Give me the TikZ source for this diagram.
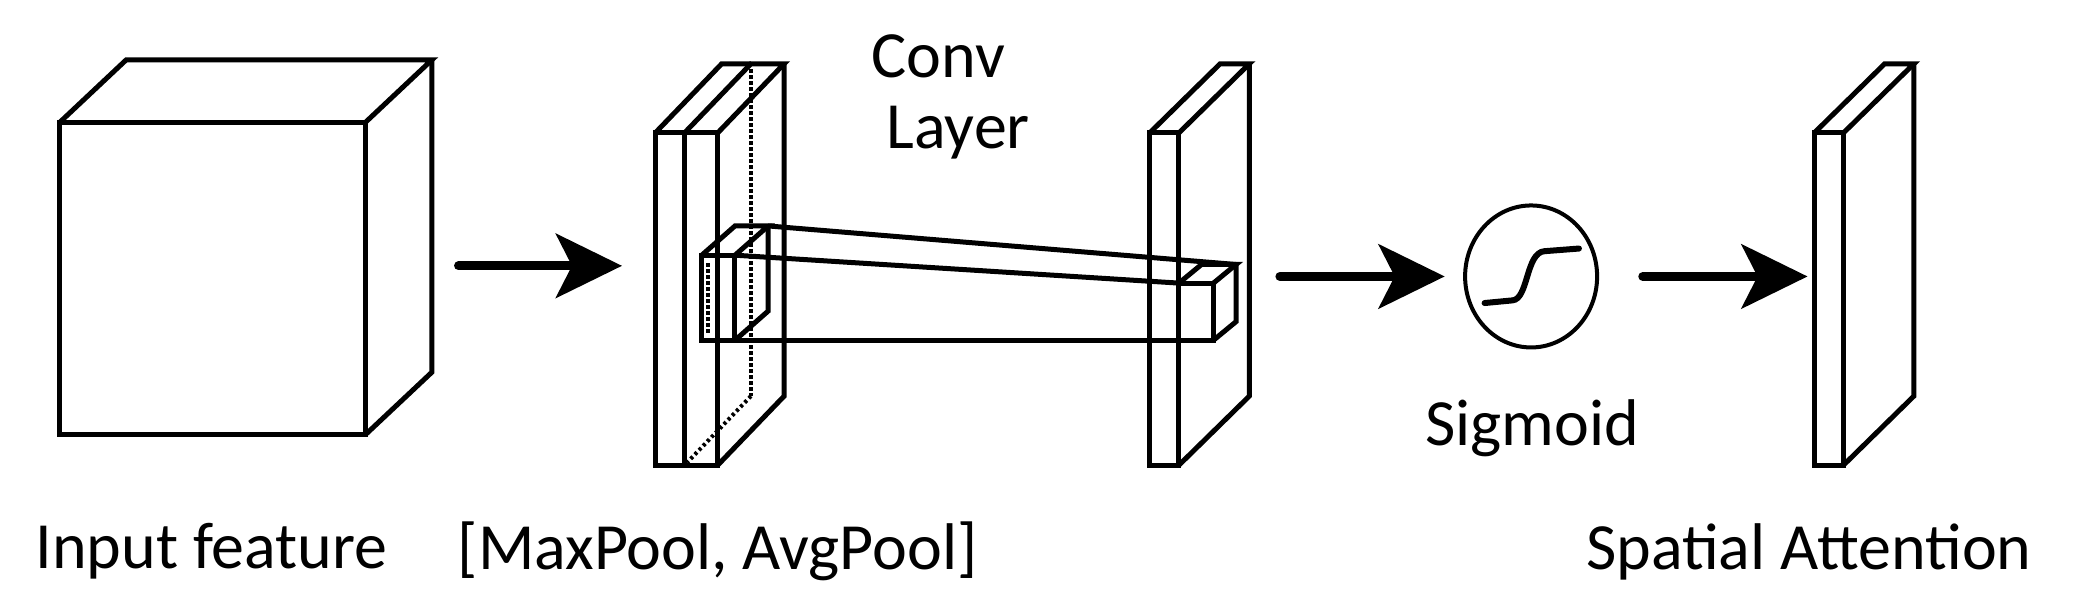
\documentclass[tikz,border=0pt]{standalone}
\usepackage{fontspec}
\setmainfont{Carlito}
\usetikzlibrary{calc,arrows.meta,shapes.geometric}
\tikzset{box/.style={line width=5pt,line join=miter},
 flow/.style={line width=9pt,line cap=round,-{Stealth[length=66pt,width=64pt,inset=16pt]}},
 lbl/.style={font=\fontsize{66}{78}\selectfont,inner sep=0pt}}
\newcommand\prism[6]{%
 \draw[box] (#1,#2) rectangle (#3,#4);
 \draw[box] (#1,#2) -- ++(#5,-#6) -- ($(#3,#2)+(#5,-#6)$) -- (#3,#2);
 \draw[box] ($(#3,#2)+(#5,-#6)$) -- ($(#3,#4)+(#5,-#6)$) -- (#3,#4);}
\begin{document}
\begin{tikzpicture}[x=1.329pt,y=-1.329pt]
\useasboundingbox (0,0) rectangle (1568,451);
% input cube
\prism{45}{92}{275}{327}{50}{47}
% pooled slabs
\prism{515}{100}{540}{350}{50}{52}
\draw[box] (493,100) rectangle (515,350);
\draw[box] (493,100) -- ++(50,-52) -- (565,48);
\draw[line width=4pt,dotted] (565,52) -- (565,298);
\draw[line width=4pt,dashed] (565,298) -- (517,348);
% small kernel cube
\prism{528}{192}{553}{256}{25}{22}
\draw[line width=4pt,dotted] (533,198) -- (533,252);
% conv output slab
\prism{865}{100}{887}{350}{53}{52}
\prism{887}{213}{913}{256}{17}{14}
\draw[box] (578,170) -- (930,199);
\draw[box] (553,192) -- (887,213);
\draw[box] (553,256) -- (913,256);
% final slab
\prism{1365}{100}{1387}{350}{53}{52}
% sigmoid
\node[draw,line width=4pt,ellipse,minimum width=132pt,minimum height=142pt,inner sep=0pt] (sig) at (1152,208) {};
\draw[line width=6pt,line cap=round] (1117,228) -- (1138,226) .. controls (1150,225) and (1148,190) .. (1162,189) -- (1188,187);
% arrows
\coordinate (a1) at (345,200); \coordinate (b1) at (468,200);
\coordinate (a2) at (963,208); \coordinate (b2) at (1087,208);
\coordinate (a3) at (1236,208); \coordinate (b3) at (1360,208);
\draw[flow] (a1) -- (b1);
\draw[flow] (a2) -- (b2);
\draw[flow] (a3) -- (b3);
% labels
\node[lbl] (t1) at (159,415) {Input feature};
\node[lbl] (t2) at (540,415) {[MaxPool, AvgPool]};
\node[lbl] (t3) at (706,42) {Conv};
\node[lbl] (t4) at (721,100) {Layer};
\node[lbl] (t5) at (1153,322) {Sigmoid};
\node[lbl] (t6) at (1361,415) {Spatial Attention};
\end{tikzpicture}
\end{document}
